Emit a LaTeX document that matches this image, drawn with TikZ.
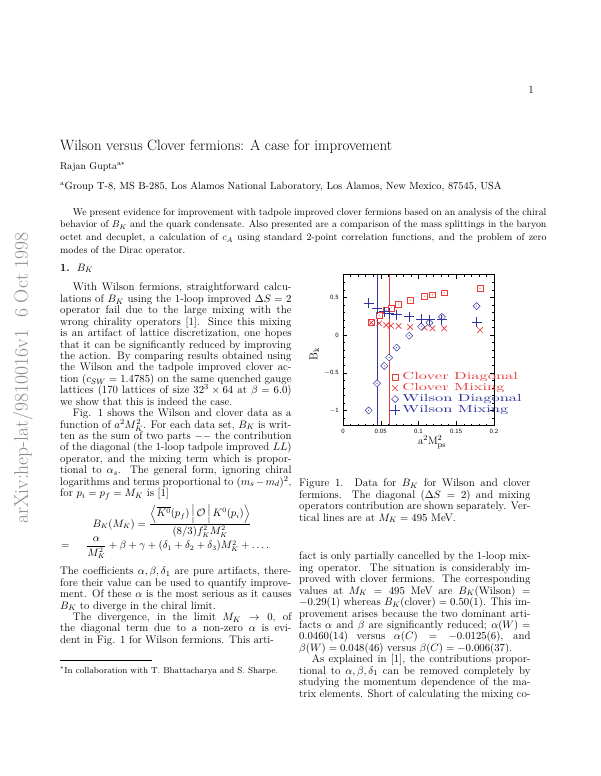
\documentclass[tikz,border=0pt]{standalone}
\usepackage{amsmath,amssymb}
\usetikzlibrary{shapes.misc,shapes.geometric}
\newcommand{\bodyf}{\fontsize{11.2}{11.65}\selectfont\lineskiplimit=-4pt\lineskip=0pt}
\newcommand{\smallf}{\fontsize{10.1}{13}\selectfont}
\definecolor{cred}{RGB}{232,60,60}
\definecolor{cblue}{RGB}{50,50,160}
\begin{document}
\begin{tikzpicture}[x=1.02pt,y=-1.02pt,
  col/.style={anchor=north west,inner sep=0pt,text width=236pt,align=justify,font=\bodyf},
  cdmk/.style={draw=cred,text=cred,fill=white,rectangle,minimum size=6pt,inner sep=0pt,line width=0.6pt},
  cmmk/.style={cross out,draw=cred,minimum size=5pt,inner sep=0pt,line width=0.7pt},
  wdmk/.style={draw=cblue,fill=white,diamond,minimum size=7.5pt,inner sep=0pt,line width=0.5pt},
  wmmk/.style={draw=cblue,cross out,rotate=45,minimum size=6.5pt,inner sep=0pt,line width=0.9pt},
  dotmk/.style={circle,inner sep=0pt,minimum size=1.2pt},
  lab/.style={font=\sffamily\fontsize{6.5}{7}\selectfont,inner sep=1pt},
  leg/.style={anchor=west,inner sep=0,font=\fontsize{10.5}{11}\selectfont}]
\useasboundingbox (0,0) rectangle (600,776);
\fill[white] (0,0) rectangle (600,776);
% stamp
\node[rotate=90,text=black!45,font=\fontsize{20}{22}\selectfont,inner sep=0] (stamp) at (23,378) {arXiv:hep-lat/9810016v1\ \ 6 Oct 1998};
\node[anchor=base east,inner sep=0,font=\bodyf] (pg) at (534,93) {1};
\node[anchor=base west,inner sep=0,font=\fontsize{15.2}{18}\selectfont] (title) at (60,150) {Wilson versus Clover fermions: A case for improvement};
\node[anchor=base west,inner sep=0,font=\smallf] (auth) at (60,169) {Rajan Gupta$^{\mathrm{a}}$\kern-0.5pt$^*$};
\node[anchor=base west,inner sep=0,font=\fontsize{10.6}{13}\selectfont] (aff) at (60,189) {$^{\mathrm{a}}$Group T-8, MS B-285, Los Alamos National Laboratory, Los Alamos, New Mexico, 87545, USA};
\node[anchor=north west,inner sep=0,text width=496pt,align=justify,font=\smallf] (abs) at (60,206) {\strut\hspace*{13pt}We present evidence for improvement with tadpole improved clover fermions based on an analysis of the chiral\linebreak behavior of $B_K$ and the quark condensate. Also presented are a comparison of the mass splittings in the baryon\linebreak octet and decuplet, a calculation of $c_A$ using standard 2-point correlation functions, and the problem of zero\linebreak modes of the Dirac operator.};
\node[anchor=base west,inner sep=0,font=\bodyf] (sec) at (60,271) {\textbf{1.}\ \ $B_K$};
\node[col] (p1) at (60,282.8) {\strut\hspace*{13pt}With Wilson fermions, straightforward calcu-\linebreak lations of $B_K$ using the 1-loop improved $\Delta S=2$\linebreak operator fail due to the large mixing with the\linebreak wrong chirality operators [1]. Since this mixing\linebreak is an artifact of lattice discretization, one hopes\linebreak that it can be significantly reduced by improving\linebreak the action. By comparing results obtained using\linebreak the Wilson and the tadpole improved clover ac-\linebreak tion ($c_{SW}=1.4785$) on the same quenched gauge\linebreak lattices (170 lattices of size $32^3\times64$ at $\beta=6.0$)\linebreak we show that this is indeed the case.\par
\hspace*{13pt}Fig. 1 shows the Wilson and clover data as a\linebreak function of $a^2M_K^2$. For each data set, $B_K$ is writ-\linebreak ten as the sum of two parts $--$ the contribution\linebreak of the diagonal (the 1-loop tadpole improved $LL$)\linebreak operator, and the mixing term which is propor-\linebreak tional to $\alpha_s$. The general form, ignoring chiral\linebreak logarithms and terms proportional to $(m_s-m_d)^2$,\linebreak for $p_i=p_f=M_K$ is [1]};
\node[inner sep=0,font=\fontsize{10.5}{12}\selectfont] (eq1) at (172,521) {$B_K(M_K) = \dfrac{\left\langle\overline{K^0}(p_f)\,\middle|\,\mathcal{O}\,\middle|\,K^0(p_i)\right\rangle}{(8/3)f_K^2M_K^2}$};
\node[inner sep=0,anchor=west,font=\fontsize{10.5}{12}\selectfont] (eq2) at (61,548) {$=\quad\ \dfrac{\alpha}{M_K^2}+\beta+\gamma+(\delta_1+\delta_2+\delta_3)M_K^2+\ldots.$};
\node[col] (p2) at (60,566.6) {\strut The coefficients $\alpha,\beta,\delta_1$ are pure artifacts, there-\linebreak fore their value can be used to quantify improve-\linebreak ment. Of these $\alpha$ is the most serious as it causes\linebreak $B_K$ to diverge in the chiral limit.\par
\hspace*{13pt}The divergence, in the limit $M_K\to0$, of\linebreak the diagonal term due to a non-zero $\alpha$ is evi-\linebreak dent in Fig. 1 for Wilson fermions. This arti-};
\coordinate (fr1) at (60,660);
\coordinate (fr2) at (152,660);
\draw[line width=0.5pt] (fr1) -- (fr2);
\node[anchor=base west,inner sep=0,font=\fontsize{9}{10}\selectfont] (fn) at (60,673) {$^*$In collaboration with T. Bhattacharya and S. Sharpe.};
% caption
\node[col] (cap) at (299,478.8) {\strut Figure 1.\ \ Data for $B_K$ for Wilson and clover\linebreak fermions. The diagonal ($\Delta S=2$) and mixing\linebreak operators contribution are shown separately. Ver-\linebreak tical lines are at $M_K=495$ MeV.};
\node[col] (p3) at (299,551.8) {\strut fact is only partially cancelled by the 1-loop mix-\linebreak ing operator. The situation is considerably im-\linebreak proved with clover fermions. The corresponding\linebreak values at $M_K=495$ MeV are $B_K(\mathrm{Wilson})=$\linebreak $-0.29(1)$ whereas $B_K(\mathrm{clover})=0.50(1)$. This im-\linebreak provement arises because the two dominant arti-\linebreak facts $\alpha$ and $\beta$ are significantly reduced; $\alpha(W)=$\linebreak $0.0460(14)$ versus $\alpha(C)=-0.0125(6)$, and\linebreak $\beta(W)=0.048(46)$ versus $\beta(C)=-0.006(37)$.\par
\hspace*{13pt}As explained in [1], the contributions propor-\linebreak tional to $\alpha,\beta,\delta_1$ can be removed completely by\linebreak studying the momentum dependence of the ma-\linebreak trix elements. Short of calculating the mixing co-};
% plot
\begin{scope}[shift={(343,335)},xscale=755,yscale=-75.4]
\draw[line width=0.4pt] (0,-1.2) rectangle (0.2,0.8);
\foreach \i in {1,...,19}{
  \draw[line width=0.3pt] (\i*0.01,-1.2) -- ++(0,0.025);
  \draw[line width=0.3pt] (\i*0.01,0.8) -- ++(0,-0.025);}
\foreach \i in {1,2,3}{
  \draw[line width=0.4pt] (\i*0.05,-1.2) -- ++(0,0.055);
  \draw[line width=0.4pt] (\i*0.05,0.8) -- ++(0,-0.055);}
\foreach \i in {-11,...,7}{
  \draw[line width=0.3pt] (0,\i*0.1) -- ++(0.0025,0);
  \draw[line width=0.3pt] (0.2,\i*0.1) -- ++(-0.0025,0);}
\foreach \v in {-1,-0.5,0,0.5}{
  \draw[line width=0.4pt] (0,\v) -- ++(0.005,0);
  \draw[line width=0.4pt] (0.2,\v) -- ++(-0.005,0);}
\foreach \v/\t in {0.5/0.5,0/0,-0.5/$-$0.5,-1/$-$1}
  \node[lab,anchor=east] at (-0.004,\v) {\t};
\foreach \v/\t in {0/0,0.05/0.05,0.1/0.1,0.15/0.15,0.2/0.2}
  \node[lab,anchor=north] at (\v,-1.23) {\t};
\node[rotate=90,font=\fontsize{11.5}{12}\selectfont] (ylab) at (-0.038,-0.25) {B$_{\mathrm{k}}$};
\node[font=\fontsize{11}{12}\selectfont] (xlab) at (0.118,-1.42) {a$^2$M$^2_{\mathrm{ps}}$};
\draw[cblue,line width=0.6pt] (0.045,-1.2) -- (0.045,0.8);
\draw[cred,line width=0.6pt] (0.0617,-1.2) -- (0.0617,0.8);
\foreach \x/\y in {0.0374/0.163,0.048/0.264,0.0573/0.33,0.0634/0.36,0.0736/0.41,0.089/0.46,0.108/0.515,0.1185/0.533,0.134/0.56,0.1815/0.62}
  {\node[cdmk] at (\x,\y) {}; \node[dotmk,fill=cred] at (\x,\y) {};}
\foreach \x/\y in {0.0374/0.163,0.048/0.154,0.0573/0.132,0.0634/0.123,0.0736/0.119,0.089/0.106,0.108/0.097,0.1185/0.088,0.134/0.088,0.1815/0.066}
  \node[cmmk] at (\x,\y) {};
\foreach \x/\y in {0.034/-1.0,0.045/-0.64,0.0546/-0.41,0.061/-0.30,0.071/-0.167,0.0877/-0.01,0.1035/0.11,0.1145/0.163,0.131/0.24,0.177/0.383}
  {\node[wdmk] at (\x,\y) {}; \node[dotmk,fill=cblue] at (\x,\y) {};}
\foreach \x/\y in {0.034/0.42,0.045/0.35,0.0546/0.31,0.061/0.29,0.071/0.27,0.0877/0.24,0.1035/0.21,0.1145/0.20,0.131/0.20,0.177/0.17}
  \node[wmmk] at (\x,\y) {};
\node[cdmk] at (0.069,-0.56) {};
\node[cmmk] at (0.069,-0.705) {};
\node[wdmk] at (0.069,-0.85) {};
\node[wmmk] at (0.069,-0.995) {};
\node[leg,text=cred] at (0.0785,-0.56) {\scalebox{1.6}[1]{Clover Diagonal}};
\node[leg,text=cred] at (0.0785,-0.705) {\scalebox{1.6}[1]{Clover Mixing}};
\node[leg,text=cblue] at (0.0785,-0.85) {\scalebox{1.6}[1]{Wilson Diagonal}};
\node[leg,text=cblue] at (0.0785,-0.995) {\scalebox{1.6}[1]{Wilson Mixing}};
\end{scope}
\end{tikzpicture}
\end{document}
